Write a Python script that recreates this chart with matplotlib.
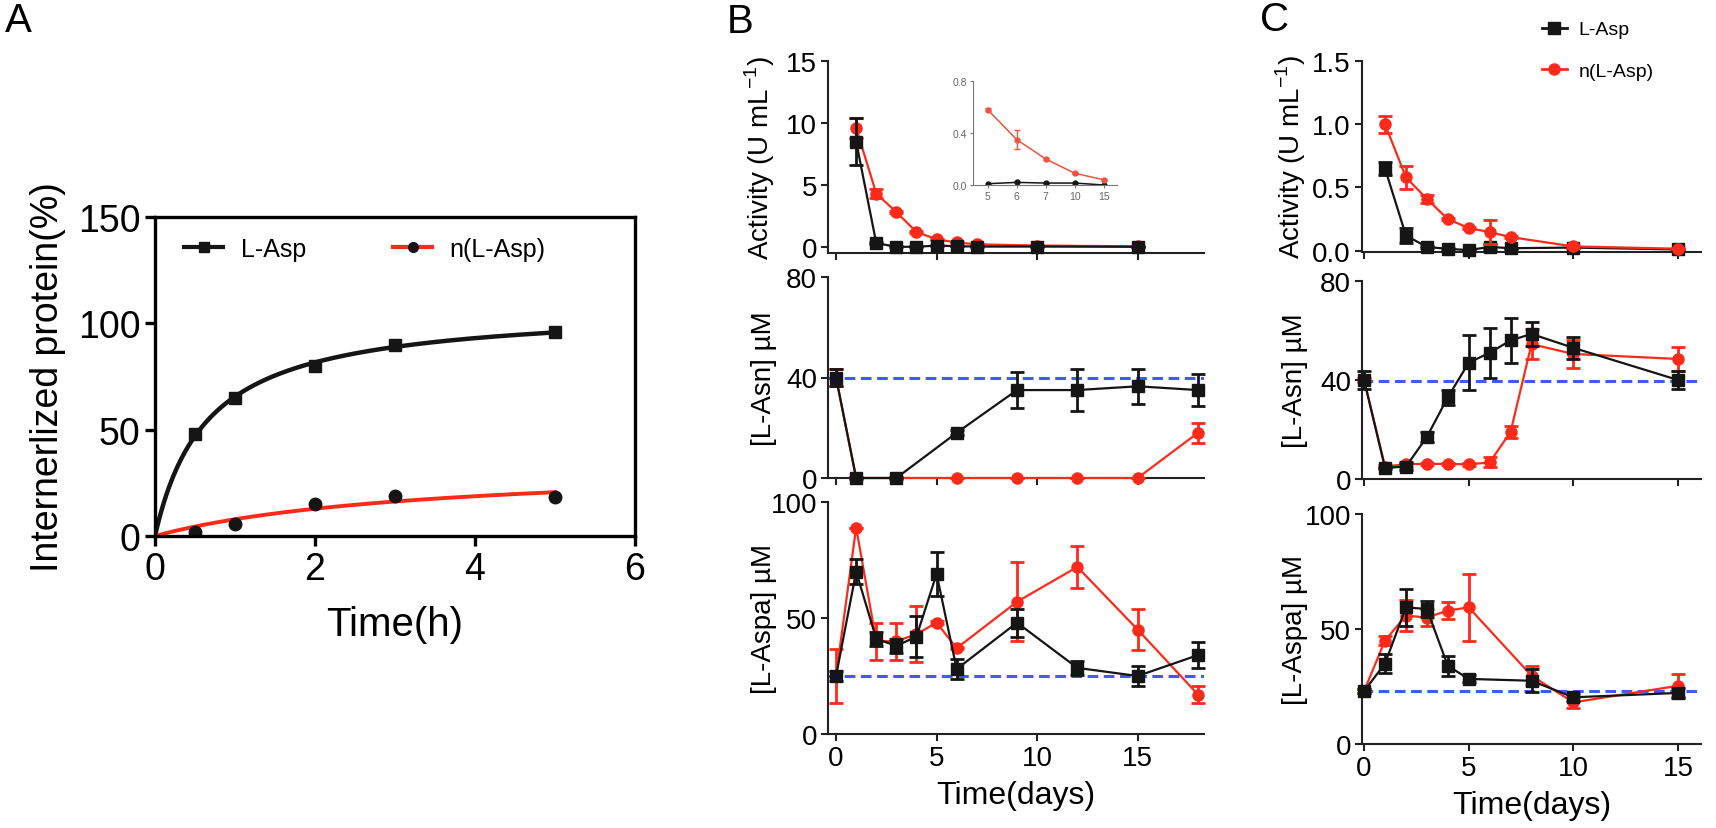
import matplotlib
matplotlib.use("Agg")
import matplotlib.pyplot as plt
import numpy as np
from matplotlib.ticker import FormatStrFormatter

plt.rcParams['font.family'] = ['Liberation Sans', 'DejaVu Sans']
plt.rcParams['mathtext.fontset'] = 'custom'
plt.rcParams['mathtext.rm'] = 'Liberation Sans'

BLACK = '#151515'
RED = '#ff2a1a'
BLUE = '#3d5cff'

# panel A - internalized protein (%)
a_time = [0.5, 1, 2, 3, 5]
a_free = [48, 65, 80, 90, 96]
a_nano = [2, 5.5, 15, 19, 18.5]

# panel B - activity (U/mL)
b_act_days = [1, 2, 3, 4, 5, 6, 7, 10, 15]
b_act_free = [8.5, 0.3, 0.0, 0.0, 0.1, 0.05, 0.02, 0.02, 0.0]
b_act_free_err = [1.9, 0.1, 0.05, 0.05, 0.05, 0.02, 0.01, 0.01, 0.0]
b_act_nano = [9.6, 4.3, 2.8, 1.2, 0.6, 0.35, 0.2, 0.1, 0.04]
b_act_nano_err = [0.8, 0.4, 0.1, 0.1, 0.05, 0.07, 0.01, 0.01, 0.01]

# panel B inset
inset_days = ['5', '6', '7', '10', '15']
inset_free = [0.01, 0.02, 0.015, 0.015, 0.0]
inset_nano = [0.58, 0.35, 0.20, 0.09, 0.04]
inset_nano_err = [0.01, 0.07, 0.005, 0.005, 0.005]

# panel B - [L-Asn]
b_asn_days = [0, 1, 3, 6, 9, 12, 15, 18]
b_asn_free = [40, 0, 0, 18, 35, 35, 36.5, 35]
b_asn_free_err = [3.5, 0.5, 0.5, 1, 7, 8.5, 7, 6.3]
b_asn_nano = [40, 0, 0, 0, 0, 0, 0, 18]
b_asn_nano_err = [3.5, 0, 0, 0, 0, 0, 0, 4]

# panel B - [L-Aspa]
b_aspa_days = [0, 1, 2, 3, 4, 5, 6, 9, 12, 15, 18]
b_aspa_free = [25, 70, 41, 38, 42, 69, 28, 48, 28.5, 25, 34]
b_aspa_free_err = [2, 5.5, 3, 3, 9, 9.4, 4.3, 6, 3, 4.3, 5.7]
b_aspa_nano = [25, 89, 40, 40, 43, 48, 37, 57, 72, 45, 17]
b_aspa_nano_err = [11.5, 0, 8, 8, 12, 0.5, 0.5, 17, 9, 9, 3.6]

# panel C - activity (U/mL)
c_act_days = [1, 2, 3, 4, 5, 6, 7, 10, 15]
c_act_free = [0.65, 0.12, 0.03, 0.015, 0.005, 0.03, 0.02, 0.025, 0.01]
c_act_free_err = [0.05, 0.06, 0.01, 0.005, 0.0, 0.02, 0.005, 0.005, 0.005]
c_act_nano = [1.0, 0.58, 0.41, 0.25, 0.18, 0.147, 0.108, 0.034, 0.016]
c_act_nano_err = [0.066, 0.09, 0.03, 0.01, 0.01, 0.095, 0.01, 0.01, 0.005]

# panel C - [L-Asn]
c_asn_days = [0, 1, 2, 3, 4, 5, 6, 7, 8, 10, 15]
c_asn_free = [40, 4.5, 5, 17, 33, 47, 51, 56, 58.6, 53, 40]
c_asn_free_err = [3.7, 0.5, 1.5, 2, 3, 11, 10, 9, 4.8, 4.4, 3.7]
c_asn_nano = [40, 5, 6, 6.1, 6.1, 5.9, 6.7, 19, 54.5, 50.5, 48.5]
c_asn_nano_err = [1, 0.5, 1, 0.5, 0.5, 0.5, 2, 2.4, 6, 5.6, 4.7]

# panel C - [L-Aspa]
c_aspa_days = [0, 1, 2, 3, 4, 5, 8, 10, 15]
c_aspa_free = [23, 35, 59.4, 58.7, 34, 28.3, 27.5, 20.3, 22.2]
c_aspa_free_err = [1, 4.3, 8, 3.6, 4.3, 1.5, 5, 1.5, 2]
c_aspa_nano = [23, 45, 55.8, 55, 58, 59.4, 29.7, 18.1, 25.3]
c_aspa_nano_err = [1, 2, 6.7, 3.6, 3.6, 14.5, 4, 2.3, 5]

b_asn_base, b_aspa_base = 40, 25
c_asn_base, c_aspa_base = 39.5, 23.2

W, H = 1716, 829
fig = plt.figure(figsize=(W / 100, H / 100), dpi=100)


def px_axes(left, top, right, bottom):
    return fig.add_axes([left / W, 1 - bottom / H, (right - left) / W, (bottom - top) / H])


def hyperbola_fit(x, y):
    # one-site binding fit y = Bmax*x/(K+x), Bmax solved for each K
    x, y = np.asarray(x, float), np.asarray(y, float)
    best = None
    for k in np.linspace(0.01, 20, 4000):
        f = x / (k + x)
        bmax = (f @ y) / (f @ f)
        err = np.sum((bmax * f - y) ** 2)
        if best is None or err < best[0]:
            best = (err, bmax, k)
    return best[1], best[2]


def style(ax, lw=1.5, size=20):
    ax.spines[['top', 'right']].set_visible(False)
    for s in ['left', 'bottom']:
        ax.spines[s].set_linewidth(lw)
        ax.spines[s].set_color('#222222')
    ax.tick_params(direction='out', width=lw, length=5, labelsize=size, pad=3, colors='#222222')
    ax.tick_params(labelcolor='black')


def series(ax, x, y, err, color, marker, z, ms=8, lw=1.6):
    cont = ax.errorbar(x, y, yerr=err, color=color, marker=marker, ms=ms, lw=lw,
                       elinewidth=2, capsize=5, capthick=2, zorder=z)
    for art in cont.get_children():
        art.set_clip_on(False)
    cont.lines[0].set_clip_on(False)
    return cont


# ---------------- A ----------------
axA = px_axes(155, 218, 635, 537)
for s in axA.spines.values():
    s.set_linewidth(2.4)
axA.tick_params(direction='out', width=2.4, length=7, labelsize=27, top=False, right=False)
xx = np.linspace(0, 5, 200)
bm, k = hyperbola_fit(a_time, a_free)
axA.plot(xx, bm * xx / (k + xx), color=BLACK, lw=3.2)
bm, k = hyperbola_fit(a_time, a_nano)
axA.plot(xx, bm * xx / (k + xx), color=RED, lw=2.8)
axA.plot(a_time, a_free, 's', color=BLACK, ms=9)
axA.plot(a_time, a_nano, 'o', color=BLACK, ms=9)
axA.set_xlim(0, 6)
axA.set_ylim(0, 150)
axA.set_xticks([0, 2, 4, 6])
axA.set_yticks([0, 50, 100, 150])
axA.set_xlabel('Time(h)', fontsize=29)
axA.set_ylabel('Internerlized protein(%)', fontsize=27)
axA.xaxis.set_label_coords(0.5, -0.215)
axA.yaxis.set_label_coords(-0.185, 0.5)
hA = [plt.Line2D([], [], color=BLACK, lw=3, marker='s', ms=7),
      plt.Line2D([], [], color=RED, lw=3, marker='o', mfc=BLACK, mec=BLACK, ms=7)]
axA.legend(hA, ['L-Asp', 'n(L-Asp)'], ncol=2, frameon=False, loc='center left',
           bbox_to_anchor=(0.035, 0.9), fontsize=18, handlelength=1.55,
           handletextpad=0.7, columnspacing=3.5, borderpad=0)

# ---------------- B ----------------
bx = (-0.4, 18.3)
axB1 = px_axes(828, 62, 1204, 254)
axB2 = px_axes(828, 278, 1204, 479)
axB3 = px_axes(828, 503, 1204, 735)

series(axB1, b_act_days, b_act_nano, b_act_nano_err, RED, 'o', 3)
series(axB1, b_act_days, b_act_free, b_act_free_err, BLACK, 's', 4)
axB1.set_ylim(-0.5, 15)
axB1.set_yticks([0, 5, 10, 15])
axB1.set_ylabel('Activity (U mL$^{\\mathregular{-1}}$)', fontsize=20)

series(axB2, b_asn_days, b_asn_nano, b_asn_nano_err, RED, 'o', 3)
series(axB2, b_asn_days, b_asn_free, b_asn_free_err, BLACK, 's', 4)
axB2.axhline(b_asn_base, color=BLUE, ls=(0, (3.5, 1.8)), lw=2.2, zorder=2)
axB2.set_ylim(0, 80)
axB2.set_yticks([0, 40, 80])
axB2.set_ylabel('[L-Asn] µM', fontsize=20)

series(axB3, b_aspa_days, b_aspa_nano, b_aspa_nano_err, RED, 'o', 3)
series(axB3, b_aspa_days, b_aspa_free, b_aspa_free_err, BLACK, 's', 4)
axB3.axhline(b_aspa_base, color=BLUE, ls=(0, (3.5, 1.8)), lw=2.2, zorder=2)
axB3.set_ylim(0, 100)
axB3.set_yticks([0, 50, 100])
axB3.set_ylabel('[L-Aspa] µM', fontsize=20)
axB3.set_xlabel('Time(days)', fontsize=23)
axB3.xaxis.set_label_coords(0.5, -0.2)

for ax in (axB1, axB2, axB3):
    style(ax)
    ax.set_xlim(*bx)
    ax.set_xticks([0, 5, 10, 15])
    ax.yaxis.set_label_coords(-0.135, 0.5)
axB1.tick_params(labelbottom=False)
axB2.tick_params(labelbottom=False)

# inset
axI = px_axes(973, 82, 1117, 186)
ipos = np.arange(len(inset_days))
axI.errorbar(ipos, inset_nano, yerr=inset_nano_err, color='#f0533f', marker='o', ms=3.5,
             lw=1.1, elinewidth=1, capsize=2, capthick=1)
axI.plot(ipos, inset_free, color=BLACK, marker='o', ms=3.5, lw=1.1)
axI.set_xlim(-0.5, 4.45)
axI.set_ylim(0, 0.8)
axI.set_xticks(ipos)
axI.set_xticklabels(inset_days)
axI.set_yticks([0, 0.4, 0.8])
axI.yaxis.set_major_formatter(FormatStrFormatter('%.1f'))
axI.spines[['top', 'right']].set_visible(False)
for s in ['left', 'bottom']:
    axI.spines[s].set_linewidth(0.8)
    axI.spines[s].set_color('#777777')
axI.tick_params(direction='out', width=0.8, length=2, labelsize=7.5, pad=2,
                colors='#777777', labelcolor='#666666')
axI.patch.set_alpha(0)

# ---------------- C ----------------
cx = (-0.1, 16.1)
axC1 = px_axes(1362, 62, 1701, 253)
axC2 = px_axes(1362, 282, 1701, 480)
axC3 = px_axes(1362, 515, 1701, 745)

series(axC1, c_act_days, c_act_free, c_act_free_err, BLACK, 's', 3)
series(axC1, c_act_days, c_act_nano, c_act_nano_err, RED, 'o', 4)
axC1.set_ylim(-0.01, 1.5)
axC1.set_yticks([0, 0.5, 1.0, 1.5])
axC1.yaxis.set_major_formatter(FormatStrFormatter('%.1f'))
axC1.set_ylabel('Activity (U mL$^{\\mathregular{-1}}$)', fontsize=20)

series(axC2, c_asn_days, c_asn_nano, c_asn_nano_err, RED, 'o', 3)
series(axC2, c_asn_days, c_asn_free, c_asn_free_err, BLACK, 's', 4)
axC2.axhline(c_asn_base, color=BLUE, ls=(0, (3.5, 1.8)), lw=2.2, zorder=2)
axC2.set_ylim(0, 80)
axC2.set_yticks([0, 40, 80])
axC2.set_ylabel('[L-Asn] µM', fontsize=20)

series(axC3, c_aspa_days, c_aspa_nano, c_aspa_nano_err, RED, 'o', 3)
series(axC3, c_aspa_days, c_aspa_free, c_aspa_free_err, BLACK, 's', 4)
axC3.axhline(c_aspa_base, color=BLUE, ls=(0, (3.5, 1.8)), lw=2.2, zorder=2)
axC3.set_ylim(0, 100)
axC3.set_yticks([0, 50, 100])
axC3.set_ylabel('[L-Aspa] µM', fontsize=20)
axC3.set_xlabel('Time(days)', fontsize=23)
axC3.xaxis.set_label_coords(0.5, -0.2)

for ax in (axC1, axC2, axC3):
    style(ax)
    ax.set_xlim(*cx)
    ax.set_xticks([0, 5, 10, 15])
    ax.yaxis.set_label_coords(-0.16, 0.5)
axC1.tick_params(labelbottom=False)
axC2.tick_params(labelbottom=False)

hC = [plt.Line2D([], [], color=BLACK, lw=2, marker='s', ms=8),
      plt.Line2D([], [], color=RED, lw=2, marker='o', ms=8)]
fig.legend(hC, ['L-Asp', 'n(L-Asp)'], frameon=False, loc='upper left',
           bbox_to_anchor=(1532 / W, 1 - 12 / H), fontsize=14, handlelength=1.3,
           handletextpad=0.6, labelspacing=1.25, borderpad=0)

# panel letters
for lab, (px, py) in {'A': (18, 21), 'B': (740, 22), 'C': (1275, 20)}.items():
    fig.text(px / W, 1 - py / H, lab, ha='center', va='center', fontsize=29)

fig.savefig('out.png', dpi=100)
